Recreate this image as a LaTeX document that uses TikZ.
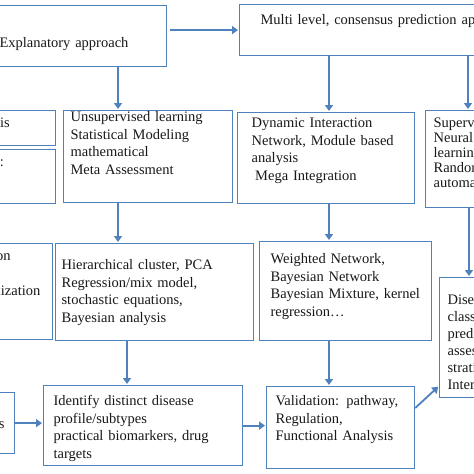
\documentclass[tikz,border=0pt]{standalone}
\usepackage{fontspec}
\setmainfont{Liberation Serif}
\usetikzlibrary{arrows.meta}
\definecolor{boxblue}{RGB}{79,129,189}
\begin{document}
\begin{tikzpicture}[x=1pt, y=-1pt, >={Triangle[length=6pt,width=8pt]}, font=\fontsize{14.5}{17.5}\selectfont]
\tikzstyle{box} = [rectangle, draw=boxblue, line width=1.2pt, anchor=north west, align=left, inner ysep=0pt, text=black!90]
\tikzstyle{link} = [->, draw=boxblue, line width=1.8pt, shorten > = 1pt]
\useasboundingbox (0,0) rectangle (474,474);
\clip (0,0) rectangle (474,474);
\fill[white] (0,0) rectangle (474,474);
% top row
\node (expl) at (-10,5) [box, inner xsep=9pt, text width=158pt, text height=42pt, text depth=19pt] {Explanatory approach};
\node (multi) at (239,4) [box, inner xsep=21pt, text width=279pt, text height=20pt, text depth=31pt] {Multi level, consensus prediction approach};
% second row
\node (anl) at (-50,110) [box, inner xsep=8.4pt, text width=88.2pt, text height=17pt, text depth=18pt] {Analysis};
\node (inp) at (-70,149) [box, inner xsep=7.2pt, text width=110.6pt, text height=17pt, text depth=37pt] {Data input:};
\node (uns) at (63,110) [box, inner xsep=7pt, text width=155pt, text height=11pt, text depth=81pt] {Unsupervised learning\\Statistical Modeling\\mathematical\\Meta Assessment};
\node (dyn) at (237,112) [box, inner xsep=14pt, text width=149pt, text height=15pt, text depth=76pt] {Dynamic Interaction\\Network, Module based\\analysis\\\hspace*{3.6pt}Mega Integration};
\node (sup) at (425,110) [box, inner xsep=8pt, text width=119pt, text height=17pt, text depth=80pt, font=\fontsize{14.5}{15}\selectfont] {Supervised\\Neural network\\learning\\Random forest\\automated};
% third row
\node (sel) at (-52,243) [box, inner xsep=8pt, text width=88pt, text height=17pt, text depth=79pt] {Selection\\and\\Normalization};
\node (hier) at (55,243) [box, inner xsep=6pt, text width=186pt, text height=26pt, text depth=71pt] {Hierarchical cluster, PCA\\Regression/mix model,\\stochastic equations,\\Bayesian analysis};
\node (wtd) at (259,241) [box, inner xsep=11pt, text width=150pt, text height=22pt, text depth=77pt] {Weighted Network,\\Bayesian Network\\Bayesian Mixture, kernel\\regression\ldots};
\node (disc) at (439,277) [box, inner xsep=8pt, text width=105pt, text height=27pt, text depth=93pt, font=\fontsize{14.5}{17}\selectfont] {Disease\\classification,\\prediction, risk\\assessment,\\stratification,\\Intervention};
% bottom row
\node (phe) at (-70,392) [box, inner xsep=7pt, text width=70pt, text height=36pt, text depth=25pt] {Phenotypes};
\node (idt) at (43,385) [box, inner xsep=10pt, text width=179pt, text height=20pt, text depth=60pt] {Identify distinct disease\\profile/subtypes\\practical biomarkers, drug\\targets};
\node (val) at (266,386) [box, inner xsep=9pt, text width=130pt, text height=19pt, text depth=63pt] {Validation: pathway,\\Regulation,\\Functional Analysis};
% arrows
\draw [link, shorten < = 3pt] (expl.east |- multi.west) -- (multi.west);
\foreach \from/\to/\x in {expl/uns/118, multi/dyn/329, multi/sup/468, uns/hier/118, dyn/wtd/329, sup/disc/469, hier/idt/127, wtd/val/329}
  \draw [link] (\from.south -| \x,0) -- (\to.north -| \x,0);
\draw [link] (phe.east) -- (phe.east -| idt.west);
\draw [link] (idt.east) -- (idt.east -| val.west);
\draw [link] (val.east |- 0,408) -- (disc.west |- 0,386);
\end{tikzpicture}
\end{document}
